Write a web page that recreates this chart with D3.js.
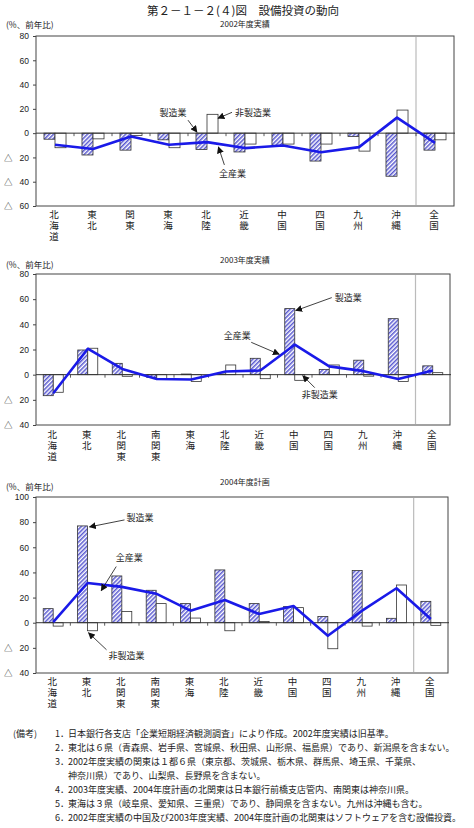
<!DOCTYPE html>
<html>
<head>
<meta charset="utf-8">
<script src="https://cdn.jsdelivr.net/npm/d3@7"></script>
<style>
  body { margin: 0; background: #fff; }
  svg text { font-family: "Noto Sans CJK JP", "Liberation Sans", sans-serif; fill: #222; }
</style>
</head>
<body>
<svg id="chart" width="474" height="828"></svg>
<script>
// data (% year on year)
var cats2002 = ["北海道", "東北", "関東", "東海", "北陸", "近畿", "中国", "四国", "九州", "沖縄", "全国"];
var mfg2002 = [-5, -18, -14, -5.5, -13.5, -15.5, -10, -23, -2.7, -35.5, -14];
var non2002 = [-12, -4.7, -2, -12, 15.5, -9, -9, -9, -14.8, 19, -5.5];
var all2002 = [-9.5, -13, -2.7, -9.6, -7.4, -12.3, -10.2, -15.7, -11.5, 12.8, -8];

var cats2003 = ["北海道", "東北", "北関東", "南関東", "東海", "北陸", "近畿", "中国", "四国", "九州", "沖縄", "全国"];
var mfg2003 = [-16.7, 19.6, 9, -2.2, 0.5, 0.5, 13, 52.5, 4.2, 11.5, 44.5, 7];
var non2003 = [-14, 21, -1.3, -3, -5.5, 7.7, -3.2, -4.5, 7.7, -1.2, -5.5, 1.6];
var all2003 = [-14.8, 20.6, 4.6, -3.4, -3.8, 2.5, 3.3, 23.8, 6.6, 2.8, -3.4, 3.4];

var cats2004 = cats2003;
var mfg2004 = [11.2, 77, 37.2, 25.8, 15.2, 42, 15.2, 12.8, 5, 41.5, 3.5, 17];
var non2004 = [-2.7, -6.4, 9, 15.2, 3.7, -6.4, 1, 12, -20.7, -2.7, 30, -2.1];
var all2004 = [0.5, 31.6, 28.5, 23.1, 9.6, 18.1, 6.9, 13.3, -10.4, 9.6, 27.4, 2.9];

var ticks2002 = [80, 60, 40, 20, 0, -20, -40, -60];
var ticks2003 = [80, 60, 40, 20, 0, -20, -40];
var ticks2004 = [100, 80, 60, 40, 20, 0, -20, -40];

var title = "第２－１－２(４)図　設備投資の動向";
var unitLabel = "(%、前年比)";
var notes = [
    ["1．", "日本銀行各支店「企業短期経済観測調査」により作成。2002年度実績は旧基準。"],
    ["2．", "東北は６県（青森県、岩手県、宮城県、秋田県、山形県、福島県）であり、新潟県を含まない。"],
    ["3．", "2002年度実績の関東は１都６県（東京都、茨城県、栃木県、群馬県、埼玉県、千葉県、"],
    ["", "神奈川県）であり、山梨県、長野県を含まない。"],
    ["4．", "2003年度実績、2004年度計画の北関東は日本銀行前橋支店管内、南関東は神奈川県。"],
    ["5．", "東海は３県（岐阜県、愛知県、三重県）であり、静岡県を含まない。九州は沖縄も含む。"],
    ["6．", "2002年度実績の中国及び2003年度実績、2004年度計画の北関東はソフトウェアを含む設備投資。"]
];

var panels = [
    { sub: "2002年度実績", cats: cats2002, mfg: mfg2002, non: non2002, all: all2002, ticks: ticks2002,
      l: 36, r: 454, t: 36, b: 206, subY: 24, unitY: 25, labY: 215,
      notes: [
          { text: "製造業", at: "mfg", i: 4, side: "l", tipDx: 1, tipDy: -1, tail: [-9, -12], lab: [-24, -19], anchor: "middle" },
          { text: "非製造業", at: "non", i: 4, side: "r", tipDx: 0, tipDy: 4, tail: [14, -6], lab: [17, -6], anchor: "start" },
          { text: "全産業", at: "line", i: 4.3, tipDx: 0, tipDy: 3, tail: [6, 18], lab: [14, 27], anchor: "middle" }
      ] },
    { sub: "2003年度実績", cats: cats2003, mfg: mfg2003, non: non2003, all: all2003, ticks: ticks2003,
      l: 36, r: 450, t: 274, b: 425, subY: 260, unitY: 264.5, labY: 435,
      notes: [
          { text: "製造業", at: "mfg", i: 7, side: "r", tipDx: 1, tipDy: 2, tail: [36, -13], lab: [39, -13], anchor: "start" },
          { text: "全産業", at: "line", i: 6.55, tipDx: 0, tipDy: -2, tail: [-28, -12], lab: [-42, -19], anchor: "middle" },
          { text: "非製造業", at: "non", i: 7, side: "r", tipDx: -2, tipDy: 1, tail: [12, 12], lab: [17, 19], anchor: "middle" }
      ] },
    { sub: "2004年度計画", cats: cats2004, mfg: mfg2004, non: non2004, all: all2004, ticks: ticks2004,
      l: 36, r: 448, t: 497, b: 673, subY: 482, unitY: 487, labY: 682,
      notes: [
          { text: "製造業", at: "mfg", i: 1, side: "r", tipDx: 2, tipDy: 1, tail: [35, -7], lab: [37, -9], anchor: "start" },
          { text: "全産業", at: "line", i: 1.4, tipDx: 0, tipDy: 6, tail: [15, -24], lab: [28, -33], anchor: "middle" },
          { text: "非製造業", at: "non", i: 1, side: "l", tipDx: 1, tipDy: 2, tail: [18, 17], lab: [38, 23], anchor: "middle" }
      ] }
];

var svg = d3.select("#chart");
var defs = svg.append("defs");

var hatch = defs.append("pattern")
    .attr("id", "hatch")
    .attr("patternUnits", "userSpaceOnUse")
    .attr("width", 3).attr("height", 3)
    .attr("patternTransform", "rotate(45)");
hatch.append("rect").attr("width", 3).attr("height", 3).attr("fill", "#fff");
hatch.append("line").attr("x1", 0.8).attr("y1", 0).attr("x2", 0.8).attr("y2", 3)
    .attr("stroke", "#3c3cc8").attr("stroke-width", 1.3);

defs.append("marker")
    .attr("id", "arrow")
    .attr("viewBox", "0 0 10 10")
    .attr("refX", 9).attr("refY", 5)
    .attr("markerWidth", 7).attr("markerHeight", 7)
    .attr("markerUnits", "userSpaceOnUse")
    .attr("orient", "auto")
    .append("path").attr("d", "M0,0L10,5L0,10z").attr("fill", "#111");

svg.append("text")
    .attr("x", 243).attr("y", 15)
    .attr("text-anchor", "middle")
    .style("font-size", "11.5px")
    .text(title);

panels.forEach(function(p) {
    var x = d3.scaleBand().domain(p.cats).range([p.l, p.r]).padding(0);
    var y = d3.scaleLinear().domain([p.ticks[p.ticks.length - 1], p.ticks[0]]).range([p.b, p.t]);
    var step = x.step(), bw = step * 0.29;
    var cx = function(i) { return p.l + (i + 0.5) * step; };

    var g = svg.append("g");

    g.append("text")
        .attr("x", 245).attr("y", p.subY + 3)
        .attr("text-anchor", "middle")
        .style("font-size", "8px")
        .text(p.sub);

    g.append("text")
        .attr("x", 6).attr("y", p.unitY + 3)
        .style("font-size", "8.5px")
        .text(unitLabel);

    // frame
    g.append("rect")
        .attr("x", p.l).attr("y", p.t)
        .attr("width", p.r - p.l).attr("height", p.b - p.t)
        .attr("fill", "none").attr("stroke", "#444").attr("stroke-width", 1);

    // separator before 全国
    var last = p.cats[p.cats.length - 1];
    g.append("line")
        .attr("x1", x(last)).attr("x2", x(last))
        .attr("y1", p.t + 1).attr("y2", p.b - 1)
        .attr("stroke", "#bbb").attr("stroke-width", 1.2);

    // y axis
    var yAxis = g.append("g")
        .attr("transform", "translate(" + p.l + ",0)")
        .call(d3.axisLeft(y).tickValues(p.ticks).tickSize(3).tickPadding(4).tickFormat(function(d) { return Math.abs(d); }));
    yAxis.select(".domain").remove();
    yAxis.selectAll("line").attr("stroke", "#444");
    yAxis.selectAll("text").style("font-size", "8.5px").style("fill", "#222")
        .style("font-family", "'Liberation Sans', Arial, sans-serif");
    yAxis.selectAll(".tick").filter(function(d) { return d < 0; })
        .append("text")
        .attr("x", -p.l + 4).attr("dy", "0.32em")
        .attr("text-anchor", "start")
        .style("font-size", "8.5px").style("fill", "#222")
        .text("△");

    // bars
    g.selectAll(".mfg")
        .data(p.mfg)
        .enter().append("rect")
        .attr("class", "mfg")
        .attr("x", function(d, i) { return cx(i) - bw; })
        .attr("y", function(d) { return y(Math.max(0, d)); })
        .attr("width", bw)
        .attr("height", function(d) { return Math.abs(y(d) - y(0)); })
        .attr("fill", "url(#hatch)")
        .attr("stroke", "#333").attr("stroke-width", 0.8);

    g.selectAll(".non")
        .data(p.non)
        .enter().append("rect")
        .attr("class", "non")
        .attr("x", function(d, i) { return cx(i); })
        .attr("y", function(d) { return y(Math.max(0, d)); })
        .attr("width", bw)
        .attr("height", function(d) { return Math.abs(y(d) - y(0)); })
        .attr("fill", "#fff")
        .attr("stroke", "#333").attr("stroke-width", 0.8);

    // zero line with category ticks
    g.append("line")
        .attr("x1", p.l).attr("x2", p.r + 1)
        .attr("y1", y(0)).attr("y2", y(0))
        .attr("stroke", "#333").attr("stroke-width", 1);
    g.selectAll(".ctick")
        .data(p.cats.slice(1))
        .enter().append("line")
        .attr("class", "ctick")
        .attr("x1", function(d) { return x(d); }).attr("x2", function(d) { return x(d); })
        .attr("y1", y(0)).attr("y2", y(0) + 3)
        .attr("stroke", "#333").attr("stroke-width", 0.8);

    // all-industry line
    var line = d3.line()
        .x(function(d, i) { return cx(i); })
        .y(function(d) { return y(d); });
    g.append("path")
        .datum(p.all)
        .attr("d", line)
        .attr("fill", "none")
        .attr("stroke", "#1a1ae8")
        .attr("stroke-width", 2.6)
        .attr("stroke-linejoin", "round");

    // category labels, written vertically
    g.selectAll(".cat")
        .data(p.cats)
        .enter().append("text")
        .attr("class", "cat")
        .attr("x", function(d, i) { return cx(i) - 1; })
        .attr("y", p.labY - 5)
        .style("writing-mode", "vertical-rl")
        .style("glyph-orientation-vertical", "0")
        .style("letter-spacing", "1.5px")
        .style("font-size", "9.5px")
        .text(function(d) { return d; });

    // annotations
    p.notes.forEach(function(n) {
        var tx, ty;
        if (n.at === "line") {
            var i0 = Math.floor(n.i), f = n.i - i0;
            tx = cx(n.i);
            ty = y(p.all[i0] + (p.all[i0 + 1] - p.all[i0]) * f);
        } else {
            var v = (n.at === "mfg" ? p.mfg : p.non)[n.i];
            var left = n.at === "mfg" ? cx(n.i) - bw : cx(n.i);
            tx = n.side === "l" ? left : left + bw;
            ty = v >= 0 ? y(v) : (n.at === "non" && n.side === "l" ? y(v) : y(0));
        }
        tx += n.tipDx; ty += n.tipDy;
        g.append("line")
            .attr("x1", tx + n.tail[0]).attr("y1", ty + n.tail[1])
            .attr("x2", tx).attr("y2", ty)
            .attr("stroke", "#111").attr("stroke-width", 0.8)
            .attr("marker-end", "url(#arrow)");
        g.append("text")
            .attr("x", tx + n.lab[0]).attr("y", ty + n.lab[1] + 3.2)
            .attr("text-anchor", n.anchor)
            .style("font-size", "9px")
            .text(n.text);
    });
});

// notes below the charts
var ng = svg.append("g");
ng.append("text").attr("x", 13).attr("y", 736.5).style("font-size", "9px").text("(備考)");
notes.forEach(function(n, i) {
    var yy = 736.5 + i * 14;
    ng.append("text").attr("x", 55).attr("y", yy).style("font-size", "9px").text(n[0]);
    ng.append("text").attr("x", 68).attr("y", yy).style("font-size", "9px").text(n[1]);
});
</script>
</body>
</html>
